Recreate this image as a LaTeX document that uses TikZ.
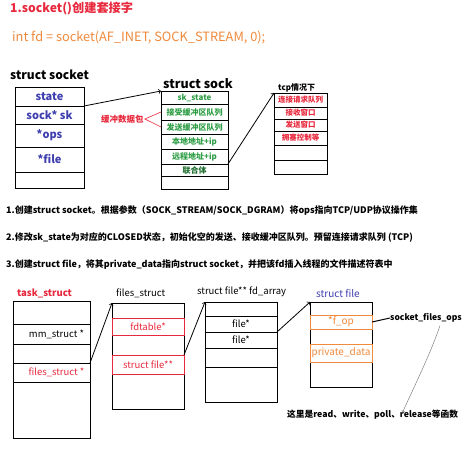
\documentclass[tikz,border=0pt]{standalone}
\usepackage{fontspec}
\setmainfont{Noto Sans CJK SC}
\usepackage{xcolor}
\usetikzlibrary{positioning}
\definecolor{tred}{HTML}{E8283C}
\definecolor{torange}{HTML}{F08A3C}
\definecolor{tblue}{HTML}{3F3FB0}
\definecolor{tgreen}{HTML}{2E9E45}
\def\fs#1{\fontsize{#1}{#1}\selectfont}
\def\cell#1#2#3#4#5{\node[#4,minimum height=#3] (#1) at (#2) {#5}}
\tikzstyle{cell}=[draw,line width=1pt,inner sep=0pt,outer sep=0pt,anchor=north west]
\tikzstyle{sockrow}=[cell,minimum width=69pt,text=tblue,font=\bfseries\fs{11}]
\tikzstyle{skrow}=[cell,minimum width=67pt,text=tgreen,font=\bfseries\fs{8}]
\tikzstyle{tcprow}=[cell,minimum width=53pt,text=tred,font=\bfseries\fs{7.5}]
\tikzstyle{taskrow}=[cell,minimum width=77pt,font=\fs{9.5}]
\tikzstyle{fsrow}=[cell,minimum width=72pt,font=\fs{9.5}]
\tikzstyle{fdrow}=[cell,minimum width=72pt,font=\fs{9.5}]
\tikzstyle{filerow}=[cell,minimum width=62pt,font=\fs{10}]
\tikzstyle{title}=[anchor=west,inner sep=0pt,font=\bfseries\fs{12}]
\tikzstyle{desc}=[anchor=west,inner sep=0pt,font=\bfseries\fs{9}]
\tikzstyle{link}=[->,line width=0.8pt]

\begin{document}
\begin{tikzpicture}[x=1pt,y=-1pt]
    \useasboundingbox[fill=white] (0,0) rectangle (474,448);
    \node[title,text=tred,font=\bfseries\fs{12.2}] (head) at (10,8) {1.socket()创建套接字};
    \node[title,text=torange,font=\fs{12.8}] (code) at (12,37.5) {int fd = socket(AF\_INET, SOCK\_STREAM, 0);};
    % struct socket
    \node[title] (socklab) at (10,75) {struct socket};
    \cell{state}{15,87}{19pt}{sockrow}{state};
    \cell{sk}{15,106}{18pt}{sockrow}{sock* sk};
    \cell{ops}{15,124}{23pt}{sockrow}{*ops};
    \cell{file}{15,147}{25pt}{sockrow}{*file};
    \cell{sock0}{15,172}{16pt}{sockrow}{};
    % struct sock
    \node[title,font=\bfseries\fs{12.5}] (sklab) at (163,84) {struct sock};
    \cell{skstate}{161,91}{13pt}{skrow}{sk\_state};
    \cell{rcvq}{161,104}{16pt}{skrow}{接受缓冲区队列};
    \cell{sndq}{161,120}{14pt}{skrow}{发送缓冲区队列};
    \cell{local}{161,134}{15pt}{skrow}{本地地址+ip};
    \cell{remote}{161,149}{15pt}{skrow}{远程地址+ip};
    \cell{union}{161,164}{12pt}{skrow,text=tgreen!70!black}{联合体};
    \cell{sk0}{161,176}{13pt}{skrow}{};
    % tcp part
    \node[title,font=\bfseries\fs{8}] (tcplab) at (278,88) {tcp情况下};
    \cell{conn}{274,93}{14pt}{tcprow}{连接请求队列};
    \cell{rwin}{274,107}{12pt}{tcprow}{接收窗口};
    \cell{swin}{274,119}{12pt}{tcprow}{发送窗口};
    \cell{cong}{274,131}{14pt}{tcprow}{拥塞控制等};
    \cell{tcp0}{274,145}{15pt}{tcprow}{};
    \cell{tcp1}{274,160}{14pt}{tcprow}{};
    \node[title,text=tred,font=\bfseries\fs{8.5}] (buf) at (101,119) {缓冲数据包};
    \draw[link] (sk.north east) -- (skstate.north west);
    \draw[tred,line width=0.6pt] (rcvq.west) -- ([xshift=1pt]buf.east) -- (sndq.west);
    \draw[link] (remote.south east) -- (conn.north west);
    % steps
    \node[desc] (step1) at (6,211) {1.创建struct socket。根据参数（SOCK\_STREAM/SOCK\_DGRAM）将ops指向TCP/UDP协议操作集};
    \node[desc] (step2) at (6,238) {2.修改sk\_state为对应的CLOSED状态，初始化空的发送、接收缓冲区队列。预留连接请求队列 (TCP)};
    \node[desc] (step3) at (6,265) {3.创建struct file，将其private\_data指向struct socket，并把该fd插入线程的文件描述符表中};
    % task_struct
    \node[title,text=tred,font=\bfseries\fs{9.5}] (tasklab) at (17,293) {task\_struct};
    \cell{task0}{13,301}{23pt}{taskrow}{};
    \cell{mm}{13,324}{20pt}{taskrow}{\hspace{10pt}mm\_struct *};
    \cell{task1}{13,344}{19pt}{taskrow}{};
    \cell{files}{13,363}{19pt}{taskrow,text=tred}{\hspace{10pt}files\_struct *};
    \cell{task2}{13,382}{56pt}{taskrow}{};
    % files_struct
    \node[title,font=\fs{9.5}] (fslab) at (116,293) {files\_struct};
    \cell{fs0}{112,303}{15pt}{fsrow}{};
    \cell{fs1}{112,335}{20pt}{fsrow}{};
    \cell{fs2}{112,374}{35pt}{fsrow}{};
    \cell{fdtab}{112,318}{17pt}{fsrow,draw=tred,text=tred}{fdtable*};
    \cell{fsfile}{112,355}{19pt}{fsrow,draw=tred,text=tred}{struct file**};
    % fd_array
    \node[title,font=\fs{9.5}] (fdlab) at (197,292) {struct file** fd\_array};
    \cell{fd0}{205,302}{14pt}{fdrow}{};
    \cell{fd1}{205,316}{16pt}{fdrow}{file*};
    \cell{fd2}{205,332}{16pt}{fdrow}{file*};
    \cell{fd3}{205,348}{19pt}{fdrow}{};
    \cell{fd4}{205,367}{35pt}{fdrow}{};
    % struct file
    \node[title,text=tblue,font=\fs{10}] (sflab) at (316,294) {struct file};
    \cell{sf0}{310,302}{13pt}{filerow}{};
    \cell{sf1}{310,329}{15pt}{filerow}{};
    \cell{sf2}{310,362}{25pt}{filerow}{};
    \cell{fop}{310,315}{14pt}{filerow,draw=torange,text=torange}{*f\_op};
    \cell{priv}{310,344}{18pt}{filerow,draw=torange,text=torange}{private\_data};
    \node[title,font=\bfseries\fs{8.5}] (fops) at (390,318) {socket\_files\_ops};
    \node[title,font=\bfseries\fs{8.7}] (note) at (287,415) {这里是read、write、poll、release等函数};
    \draw[link] (files.north east) -- (fs0.north west);
    \draw[link] (fsfile.north east) -- (fd0.north west);
    \draw[link] (fd2.north east) -- (sf0.north west);
    \draw[line width=1pt] (fop.east) -- (fops.west);
    \draw[->,gray,line width=0.5pt] ([xshift=14pt,yshift=-3pt]fops.south) .. controls (432,350) and (415,385) .. ([xshift=30pt,yshift=-2pt]note.north);
\end{tikzpicture}
\end{document}
